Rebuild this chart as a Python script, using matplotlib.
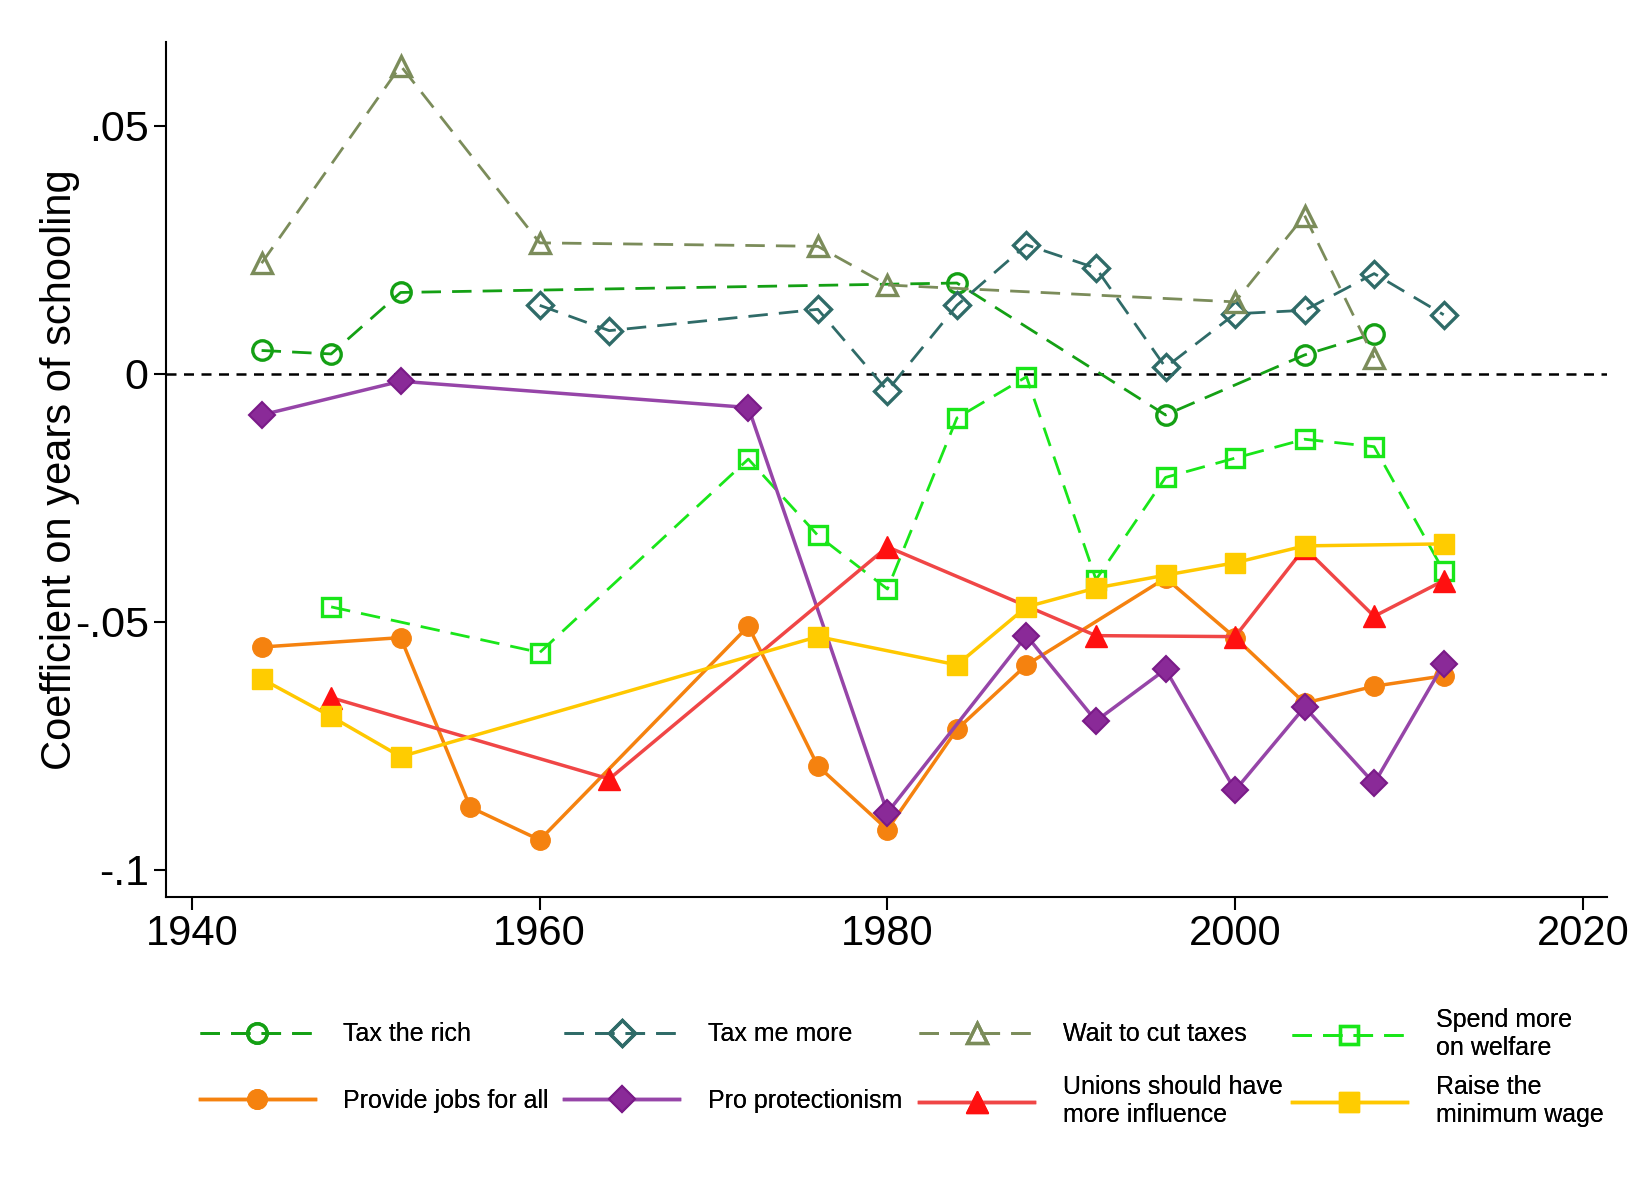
import numpy as np
import matplotlib
matplotlib.use("Agg")
import matplotlib.pyplot as plt

plt.rcParams.update({
    "font.family": ["Liberation Sans", "DejaVu Sans"],
    "axes.labelsize": 30,
    "xtick.labelsize": 30,
    "ytick.labelsize": 31,
    "legend.fontsize": 18,
})

# --- data ---
tax_rich_years = [1944, 1948, 1952, 1984, 1996, 2004, 2008]
tax_rich = [0.0047, 0.0040, 0.0164, 0.0183, -0.0083, 0.0038, 0.0081]

tax_me_years = [1960, 1964, 1976, 1980, 1984, 1988, 1992, 1996, 2000, 2004, 2008, 2012]
tax_me = [0.0138, 0.0087, 0.0130, -0.0034, 0.0138, 0.0260, 0.0213, 0.0013, 0.0121, 0.0128, 0.0202, 0.0119]

wait_years = [1944, 1952, 1960, 1976, 1980, 2000, 2004, 2008]
wait_cut = [0.0223, 0.0621, 0.0264, 0.0257, 0.0179, 0.0145, 0.0319, 0.0032]

welfare_years = [1948, 1960, 1972, 1976, 1980, 1984, 1988, 1992, 1996, 2000, 2004, 2008, 2012]
welfare = [-0.0470, -0.0562, -0.0172, -0.0326, -0.0434, -0.0089, -0.0006, -0.0415, -0.0209, -0.0170, -0.0132, -0.0147, -0.0398]

jobs_years = [1944, 1952, 1956, 1960, 1972, 1976, 1980, 1984, 1988, 1996, 2000, 2004, 2008, 2012]
jobs = [-0.0551, -0.0532, -0.0874, -0.0940, -0.0509, -0.0791, -0.0919, -0.0717, -0.0587, -0.0412, -0.0532, -0.0664, -0.0630, -0.0609]

protect_years = [1944, 1952, 1972, 1980, 1988, 1992, 1996, 2000, 2004, 2008, 2012]
protect = [-0.0083, -0.0015, -0.0068, -0.0885, -0.0528, -0.0700, -0.0596, -0.0840, -0.0672, -0.0826, -0.0585]

unions_years = [1948, 1964, 1980, 1992, 2000, 2004, 2008, 2012]
unions = [-0.0653, -0.0817, -0.0349, -0.0528, -0.0530, -0.0351, -0.0489, -0.0417]

minwage_years = [1944, 1948, 1952, 1976, 1984, 1988, 1992, 1996, 2000, 2004, 2012]
minwage = [-0.0615, -0.0691, -0.0772, -0.0530, -0.0587, -0.0470, -0.0432, -0.0406, -0.0381, -0.0347, -0.0343]

fig = plt.figure(figsize=(16.5, 12), dpi=100)
ax = fig.add_axes([0.1006, 0.2525, 0.8734, 0.7125])

dash = (0, (7, 4))
lw = 2.0
h = {}
h["rich"], = ax.plot(tax_rich_years, tax_rich, color="#14a014", ls=dash, lw=lw, marker="o", ms=14,
                     mfc="none", mec="#14a014", mew=2.4, label="Tax the rich")
h["me"], = ax.plot(tax_me_years, tax_me, color="#2f6b68", ls=dash, lw=lw, marker="D", ms=13,
                   mfc="none", mec="#2f6b68", mew=2.4, label="Tax me more")
h["wait"], = ax.plot(wait_years, wait_cut, color="#7b8c5a", ls=dash, lw=lw, marker="^", ms=15,
                     mfc="none", mec="#7b8c5a", mew=2.4, label="Wait to cut taxes")
h["welfare"], = ax.plot(welfare_years, welfare, color="#19e619", ls=dash, lw=lw, marker="s", ms=13,
                        mfc="none", mec="#19e619", mew=2.4, label="Spend more\non welfare")
h["jobs"], = ax.plot(jobs_years, jobs, color="#f5820f", lw=lw + 0.5, marker="o", ms=14,
                     mfc="#f5820f", mec="#f5820f", label="Provide jobs for all")
h["protect"], = ax.plot(protect_years, protect, color="#9645a8", lw=lw + 0.5, marker="D", ms=13,
                        mfc="#8a2a98", mec="#7a1a88", mew=1.5, label="Pro protectionism")
h["unions"], = ax.plot(unions_years, unions, color="#f04646", lw=lw + 0.5, marker="^", ms=16,
                       mfc="#ff1010", mec="#ff1010", label="Unions should have\nmore influence")
h["minwage"], = ax.plot(minwage_years, minwage, color="#ffc800", lw=lw + 0.5, marker="s", ms=14,
                        mfc="#ffcc00", mec="#ffcc00", label="Raise the\nminimum wage")

ax.axhline(0, color="black", ls=(0, (4, 3)), lw=1.8, zorder=1)

ax.set_xlim(1938.5, 2021.4)
ax.set_ylim(-0.1055, 0.0669)
ax.set_xticks([1940, 1960, 1980, 2000, 2020])
ax.set_yticks([0.05, 0, -0.05, -0.1])
ax.set_yticklabels([".05", "0", "-.05", "-.1"])
ax.tick_params(length=9, width=1.5, direction="out")
for s in ["top", "right"]:
    ax.spines[s].set_visible(False)
for s in ["left", "bottom"]:
    ax.spines[s].set_linewidth(1.5)
ax.set_ylabel("Coefficient on years of schooling")
ax.yaxis.set_label_coords(-0.06, 0.5)

# legend: one entry per slot so rows and columns line up as in the reference
rows = [["rich", "me", "wait", "welfare"], ["jobs", "protect", "unions", "minwage"]]
col_x = [0.121, 0.342, 0.557, 0.783]
row_y = [0.138, 0.0825]
for r, keys in enumerate(rows):
    for c, k in enumerate(keys):
        leg = fig.legend([h[k]], [h[k].get_label()], loc="center left",
                         bbox_to_anchor=(col_x[c], row_y[r]), frameon=False,
                         handlelength=4.6, handletextpad=1.15, borderpad=0,
                         borderaxespad=0, numpoints=1)
        fig.add_artist(leg)

fig.savefig("out.png", dpi=100)
